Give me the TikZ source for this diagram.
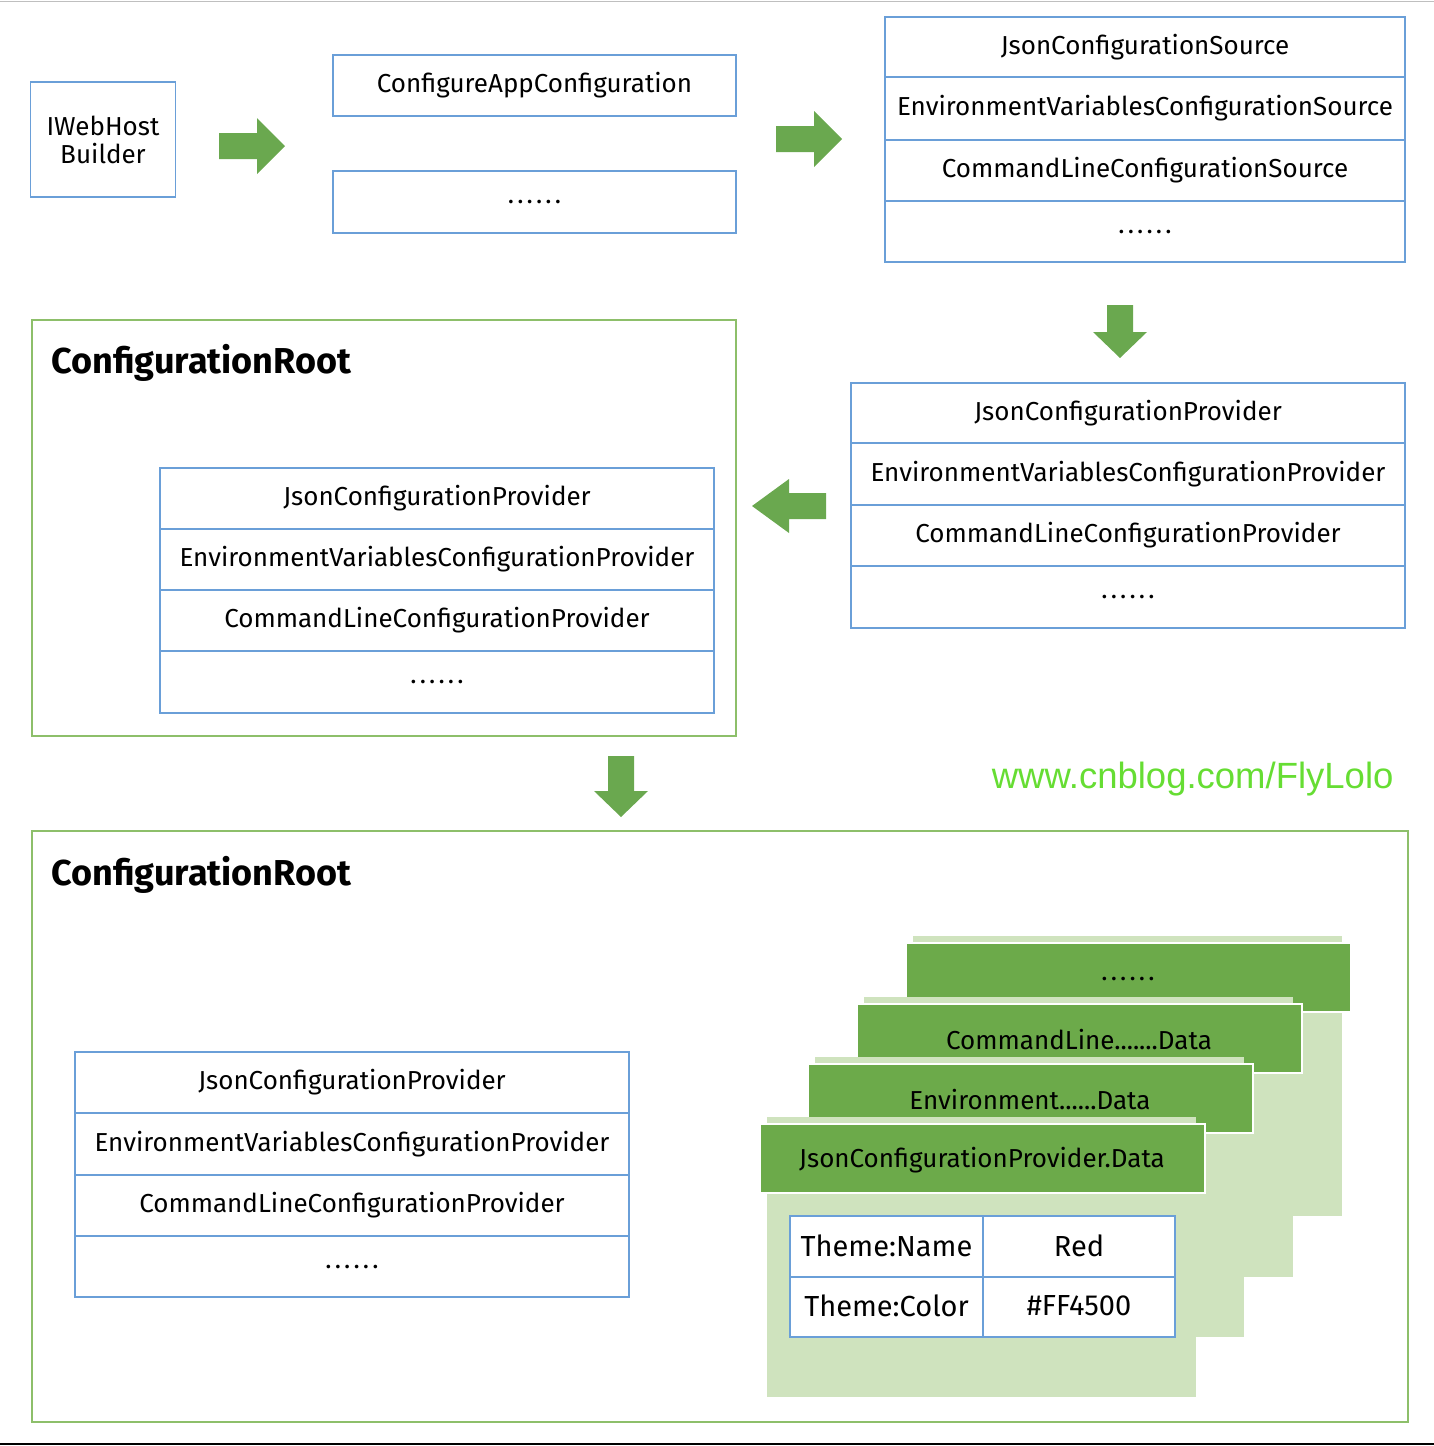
\documentclass[tikz,border=0pt]{standalone}
\usepackage{fontspec}
\setmainfont{Fira Sans}
\newfontfamily\urlfont{Liberation Sans}
\begin{document}
\begin{tikzpicture}[x=1pt,y=-1pt]
\definecolor{garrow}{HTML}{6AA84F}
\definecolor{ghead}{HTML}{6CAA4A}
\definecolor{gbody}{HTML}{CFE3BE}
\definecolor{ggrp}{HTML}{8DBF6A}
\definecolor{lblue}{HTML}{6A9FD8}
\tikzset{bl/.style={draw=lblue, line width=1.5pt}, grp/.style={draw=ggrp, line width=1.5pt},
  lbl/.style={font=\fontsize{26}{28}\selectfont},
  ttl/.style={anchor=base west, font=\bfseries\fontsize{36}{38}\selectfont}}
\useasboundingbox (0,0) rectangle (1434,1446);
\draw[gray!50, line width=1pt] (0,1) -- (1434,1);
\draw[black, line width=1.5pt] (0,1444) -- (1434,1444);
\newcommand\mylist[8]{%
  \draw[bl] (#2,#4) rectangle (#3,#8);
  \draw[bl] (#2,#5) -- (#3,#5) (#2,#6) -- (#3,#6) (#2,#7) -- (#3,#7);
  \coordinate (#1a) at ({(#2+#3)/2},{(#4+#5)/2});
  \coordinate (#1b) at ({(#2+#3)/2},{(#5+#6)/2});
  \coordinate (#1c) at ({(#2+#3)/2},{(#6+#7)/2});
  \coordinate (#1d) at ({(#2+#3)/2},{(#7+#8)/2});}
\newcommand\mydots{.\hspace{0.12em}.\hspace{0.12em}.\hspace{0.12em}.\hspace{0.12em}.\hspace{0.12em}.}
\node[bl, minimum width=145pt, minimum height=115pt, align=center, lbl, inner sep=0pt] (iw) at (103,139.5) {IWebHost\\Builder};
\node[bl, minimum width=403pt, minimum height=61pt, lbl] (cac) at (534.5,85.5) {ConfigureAppConfiguration};
\node[bl, minimum width=403pt, minimum height=62pt, lbl] (cad) at (534.5,202) {\mydots};
\mylist{s}{885}{1405}{17}{77}{140}{201}{262}
\node[lbl] (s1) at (sa) {JsonConfigurationSource};
\node[lbl] (s2) at (sb) {EnvironmentVariablesConfigurationSource};
\node[lbl] (s3) at (sc) {CommandLineConfigurationSource};
\node[lbl] (s4) at (sd) {\mydots};
\mylist{p}{851}{1405}{383}{443}{505}{566}{628}
\node[lbl] (p1) at (pa) {JsonConfigurationProvider};
\node[lbl] (p2) at (pb) {EnvironmentVariablesConfigurationProvider};
\node[lbl] (p3) at (pc) {CommandLineConfigurationProvider};
\node[lbl] (p4) at (pd) {\mydots};
\draw[grp] (32,320) rectangle (736,736);
\node[ttl] (t1) at (48,373) {ConfigurationRoot};
\mylist{q}{160}{714}{468}{529}{590}{651}{713}
\node[lbl] (q1) at (qa) {JsonConfigurationProvider};
\node[lbl] (q2) at (qb) {EnvironmentVariablesConfigurationProvider};
\node[lbl] (q3) at (qc) {CommandLineConfigurationProvider};
\node[lbl] (q4) at (qd) {\mydots};
\node[anchor=base east, font=\urlfont\fontsize{36.5}{38}\selectfont] (url) at (1397,788) {\color[HTML]{66DD33}www.cnblog.com/FlyLolo};
\draw[grp] (32,831) rectangle (1408,1422);
\node[ttl] (t2) at (48,885) {ConfigurationRoot};
\mylist{r}{75}{629}{1052}{1113}{1175}{1236}{1297}
\node[lbl] (r1) at (ra) {JsonConfigurationProvider};
\node[lbl] (r2) at (rb) {EnvironmentVariablesConfigurationProvider};
\node[lbl] (r3) at (rc) {CommandLineConfigurationProvider};
\node[lbl] (r4) at (rd) {\mydots};
\newcommand\card[3]{%
  \fill[gbody] (767+#1,1117+#2) rectangle (1196+#1,1397+#2);
  \draw[white, line width=1.5pt, fill=ghead] (760+#1,1124+#2) rectangle (1205+#1,1193+#2);
  \node[lbl] at (982+#1,1160+#2) {#3};}
\card{146}{-181}{\mydots}
\card{97}{-120}{CommandLine.......Data}
\card{48}{-60}{Environment......Data}
\card{0}{0}{JsonConfigurationProvider.Data}
\draw[bl, fill=white] (790,1216) rectangle (1175,1337);
\draw[bl] (790,1277) -- (1175,1277) (983,1216) -- (983,1337);
\node[font=\fontsize{29}{30}\selectfont] (k1) at (886.5,1246) {Theme:Name};
\node[font=\fontsize{29}{30}\selectfont] (v1) at (1079,1246) {Red};
\node[font=\fontsize{29}{30}\selectfont] (k2) at (886.5,1306) {Theme:Color};
\node[font=\fontsize{29}{30}\selectfont] (v2) at (1079,1306) {\#FF4500};
\newcommand\rarrow[2]{\fill[garrow] (#1,#2-13) -- (#1+38,#2-13) -- (#1+38,#2-28) -- (#1+66,#2) -- (#1+38,#2+28) -- (#1+38,#2+13) -- (#1,#2+13) -- cycle;}
\rarrow{219}{146}
\rarrow{776}{139}
\fill[garrow] (826,493) -- (789,493) -- (789,479) -- (752,506) -- (789,533) -- (789,519) -- (826,519) -- cycle;
\newcommand\darrow[3]{\fill[garrow] (#1-13,#2) -- (#1-13,#2+#3-26) -- (#1-27,#2+#3-26) -- (#1,#2+#3) -- (#1+27,#2+#3-26) -- (#1+13,#2+#3-26) -- (#1+13,#2) -- cycle;}
\darrow{1120}{305}{53}
\darrow{621}{756}{61}
\end{tikzpicture}
\end{document}
